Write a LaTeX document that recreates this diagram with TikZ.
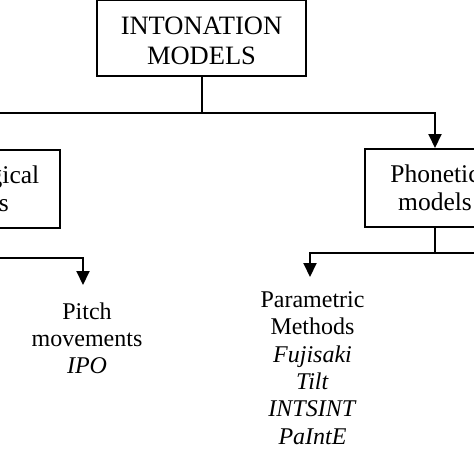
\documentclass[tikz,border=0pt]{standalone}
\usepackage{fontspec}
\setmainfont{Liberation Serif}
\usetikzlibrary{arrows.meta}

\tikzset{
	box/.style={draw, line width=2pt, align=center, font=\fontsize{25.5}{28.5}\selectfont},
	leaf/.style={align=center, inner sep=0pt, anchor=north, font=\fontsize{24}{27.3}\selectfont},
	link/.style={line width=2pt},
	arrow/.style={link, -{Triangle[width=13pt,length=14pt]}}
}

\begin{document}
\begin{tikzpicture}[x=1pt,y=1pt]

	\useasboundingbox (0,0) rectangle (474,-474);
	\clip (0,0) rectangle (474,-474);

	\node[box, minimum width=209pt, minimum height=76pt, font=\fontsize{26.5}{30}\selectfont] (models) at (201.5,-38) {\rule{0pt}{24pt}INTONATION\\MODELS};
	\node[box, minimum width=175pt, minimum height=78pt] (phonol) at (-28,-189) {Phonological\\models};
	\node[box, minimum width=140pt, minimum height=78pt] (phonet) at (435,-188) {Phonetic\\models};

	\node[leaf] (pitch) at (87,-302.5) {Pitch\\movements\\\textit{IPO}};
	\node[leaf] (param) at (312.5,-291.5) {Parametric\\Methods\\\textit{Fujisaki}\\\textit{Tilt}\\\textit{INTSINT}\\\textit{PaIntE}};

	% branches running off the picture
	\coordinate (lfar) at (-130,-285);
	\coordinate (rfar) at (560,-277);

	\draw[link] (models.south) -- ++(0,-36) coordinate (fork);
	\draw[arrow] (fork) -| (phonol.north);
	\draw[arrow] (fork) -| (phonet.north);

	\draw[link] (phonol.south) -- ++(0,-29) coordinate (lfork);
	\draw[arrow, shorten >=17.5pt] (lfork) -| ([xshift=-4pt]pitch.north);
	\draw[arrow] (lfork) -| (lfar);

	\draw[link] (phonet.south) -- ++(0,-25) coordinate (rfork);
	\draw[arrow, shorten >=14.5pt] (rfork) -| ([xshift=-2.5pt]param.north);
	\draw[arrow] (rfork) -| (rfar);

\end{tikzpicture}
\end{document}
